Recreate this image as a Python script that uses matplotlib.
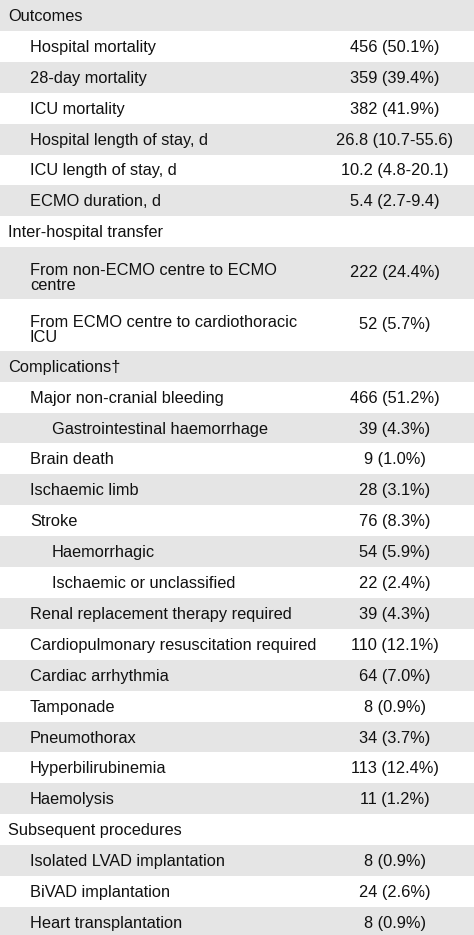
import matplotlib
matplotlib.use("Agg")
import matplotlib.pyplot as plt
from matplotlib.patches import Rectangle

labels = ["Outcomes", "Hospital mortality", "28-day mortality", "ICU mortality",
          "Hospital length of stay, d", "ICU length of stay, d", "ECMO duration, d",
          "Inter-hospital transfer", "From non-ECMO centre to ECMO\ncentre",
          "From ECMO centre to cardiothoracic\nICU", "Complications\u2020",
          "Major non-cranial bleeding", "Gastrointestinal haemorrhage", "Brain death",
          "Ischaemic limb", "Stroke", "Haemorrhagic", "Ischaemic or unclassified",
          "Renal replacement therapy required", "Cardiopulmonary resuscitation required",
          "Cardiac arrhythmia", "Tamponade", "Pneumothorax", "Hyperbilirubinemia",
          "Haemolysis", "Subsequent procedures", "Isolated LVAD implantation",
          "BiVAD implantation", "Heart transplantation"]
levels = [0,1,1,1,1,1,1,0,1,1,0,1,2,1,1,1,2,2,1,1,1,1,1,1,1,0,1,1,1]
values = ["", "456 (50.1%)", "359 (39.4%)", "382 (41.9%)", "26.8 (10.7-55.6)",
          "10.2 (4.8-20.1)", "5.4 (2.7-9.4)", "", "222 (24.4%)", "52 (5.7%)", "",
          "466 (51.2%)", "39 (4.3%)", "9 (1.0%)", "28 (3.1%)", "76 (8.3%)",
          "54 (5.9%)", "22 (2.4%)", "39 (4.3%)", "110 (12.1%)", "64 (7.0%)",
          "8 (0.9%)", "34 (3.7%)", "113 (12.4%)", "11 (1.2%)", "", "8 (0.9%)",
          "24 (2.6%)", "8 (0.9%)"]

W, H = 474, 935
fig = plt.figure(figsize=(W/100, H/100), dpi=100)
ax = fig.add_axes([0, 0, 1, 1])
ax.set_xlim(0, W); ax.set_ylim(H, 0); ax.axis("off")
plt.rcParams['font.family'] = ['Liberation Sans', 'DejaVu Sans']

single, double = 30.9, 51.8
y = 0
for i, (lab, lv, val) in enumerate(zip(labels, levels, values)):
    h = double if "\n" in lab else single
    if i % 2 == 0:
        ax.add_patch(Rectangle((0, y), W, h, facecolor="#e5e5e5", edgecolor="none"))
    xs = [8, 30, 52][lv]
    ty = y + 16 if "\n" in lab else y + h/2 + 1
    ax.text(xs, ty, lab, fontsize=11.8, va="center" if "\n" not in lab else "top",
            ha="left", color="#111111", linespacing=1.0)
    if "\n" in lab:
        pass
    if val:
        vy = y + 16 + 9 if "\n" in lab else ty
        ax.text(395, vy, val, fontsize=11.8, va="center", ha="center", color="#111111")
    y += h
fig.savefig("out.png", dpi=100)
